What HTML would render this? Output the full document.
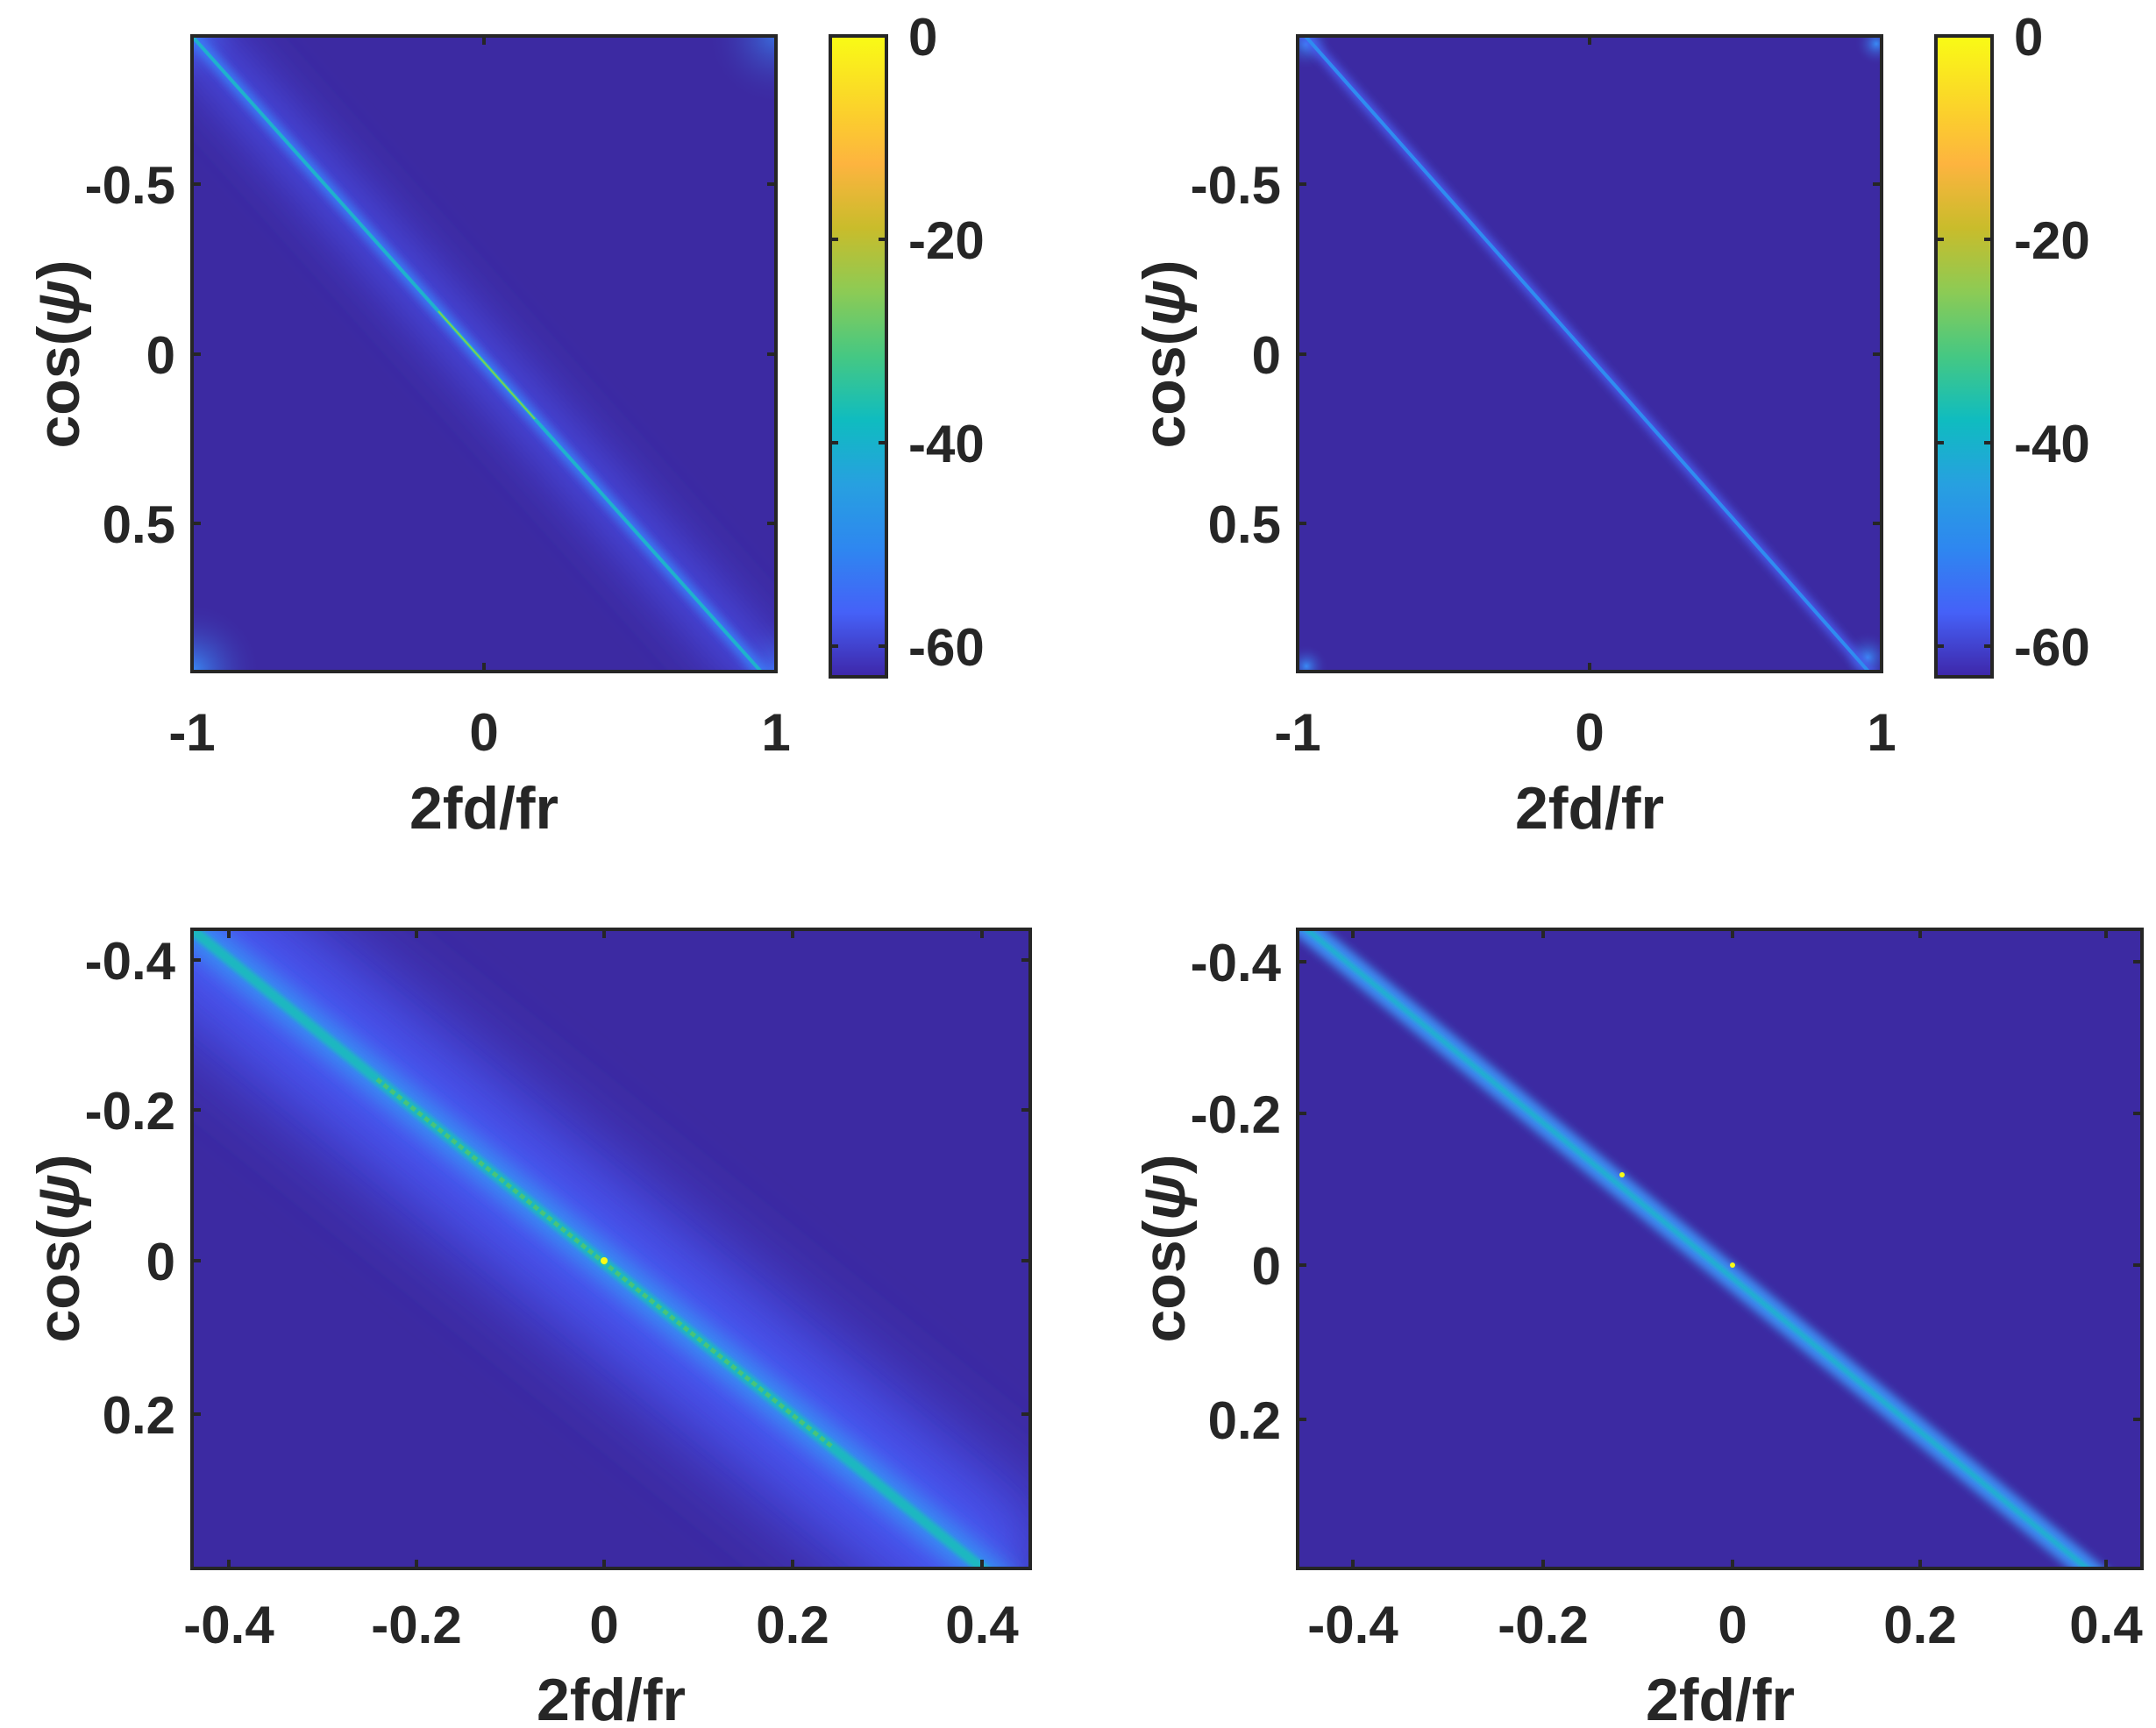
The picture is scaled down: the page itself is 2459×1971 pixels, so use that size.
<!DOCTYPE html>
<html><head><meta charset="utf-8"><style>body{margin:0;background:#fff}svg{display:block}</style></head><body>
<svg width="2459" height="1971" viewBox="0 0 2459 1971" xmlns="http://www.w3.org/2000/svg" font-family="Liberation Sans, sans-serif" font-weight="bold" fill="#262626">
<defs>
<linearGradient id="par" x1="0" y1="0" x2="0" y2="1">
<stop offset="0" stop-color="#f9fb15"/><stop offset="0.12" stop-color="#fbd02c"/><stop offset="0.2" stop-color="#fdb43f"/><stop offset="0.3" stop-color="#c9bc2b"/><stop offset="0.4" stop-color="#8ccb55"/><stop offset="0.5" stop-color="#45c883"/><stop offset="0.6" stop-color="#0fbcc0"/><stop offset="0.7" stop-color="#27a0e0"/><stop offset="0.8" stop-color="#2e87f0"/><stop offset="0.9" stop-color="#4561f8"/><stop offset="1" stop-color="#3e26a8"/>
</linearGradient>
<filter id="b40" x="-50%" y="-50%" width="200%" height="200%"><feGaussianBlur stdDeviation="40"/></filter>
<filter id="b30" x="-50%" y="-50%" width="200%" height="200%"><feGaussianBlur stdDeviation="30"/></filter>
<filter id="b12" x="-50%" y="-50%" width="200%" height="200%"><feGaussianBlur stdDeviation="12"/></filter>
<filter id="b5" x="-50%" y="-50%" width="200%" height="200%"><feGaussianBlur stdDeviation="5"/></filter>
<filter id="b2" x="-50%" y="-50%" width="200%" height="200%"><feGaussianBlur stdDeviation="2"/></filter>
<clipPath id="c1"><rect x="219" y="41" width="666" height="725"/></clipPath>
<clipPath id="c2"><rect x="1480" y="41" width="666" height="725"/></clipPath>
<clipPath id="c3"><rect x="219" y="1060" width="956" height="729"/></clipPath>
<clipPath id="c4"><rect x="1480" y="1060" width="963" height="729"/></clipPath>
<radialGradient id="cg"><stop offset="0" stop-color="#3a8af5"/><stop offset="1" stop-color="#3c2aa2" stop-opacity="0"/></radialGradient>
</defs>

<g clip-path="url(#c1)">
<rect x="219" y="41" width="666" height="725" fill="#3c2aa2"/>
<circle cx="219" cy="766" r="80" fill="url(#cg)"/><circle cx="885" cy="41" r="80" fill="url(#cg)" opacity="0.7"/><circle cx="219" cy="41" r="60" fill="url(#cg)"/><circle cx="885" cy="766" r="60" fill="url(#cg)"/>
<line x1="200" y1="20" x2="885" y2="785" stroke="#4850ec" stroke-width="50" filter="url(#b30)"/>
<line x1="200" y1="20" x2="885" y2="785" stroke="#3b7af5" stroke-width="14" filter="url(#b5)"/>
<line x1="200" y1="20" x2="885" y2="785" stroke="#1fb2cc" stroke-width="4"/>
<line x1="500" y1="355" x2="610" y2="478" stroke="#7fcf50" stroke-width="2"/>
</g>
<g clip-path="url(#c2)">
<rect x="1480" y="41" width="666" height="725" fill="#3c2aa2"/>
<circle cx="1490" cy="50" r="30" fill="url(#cg)"/><circle cx="2140" cy="50" r="25" fill="url(#cg)"/><circle cx="1490" cy="760" r="25" fill="url(#cg)"/><circle cx="2130" cy="750" r="30" fill="url(#cg)"/>
<line x1="1470" y1="20" x2="2148" y2="785" stroke="#4a60f5" stroke-width="10" filter="url(#b5)"/>
<line x1="1470" y1="20" x2="2148" y2="785" stroke="#2f8cf0" stroke-width="4"/>
</g>
<g clip-path="url(#c3)">
<rect x="219" y="1060" width="956" height="729" fill="#3c2aa2"/>
<line x1="190" y1="1037" x2="1150" y2="1813" stroke="#4448e0" stroke-width="200" filter="url(#b40)"/>
<line x1="190" y1="1037" x2="1150" y2="1813" stroke="#4a5cf5" stroke-width="80" filter="url(#b30)"/>
<line x1="190" y1="1037" x2="1150" y2="1813" stroke="#3592f2" stroke-width="34" filter="url(#b12)"/>
<line x1="190" y1="1037" x2="1150" y2="1813" stroke="#1bb8c0" stroke-width="12" filter="url(#b2)"/>
<line x1="430" y1="1231" x2="950" y2="1651" stroke="#48c47a" stroke-width="5" stroke-dasharray="6 4"/>
<circle cx="689" cy="1438" r="4" fill="#f9fb15"/>
</g>
<g clip-path="url(#c4)">
<rect x="1480" y="1060" width="963" height="729" fill="#3c2aa2"/>
<line x1="1466" y1="1040" x2="2400" y2="1805" stroke="#3d8cf2" stroke-width="26" filter="url(#b5)"/>
<line x1="1466" y1="1040" x2="2400" y2="1805" stroke="#1ab4cc" stroke-width="6" filter="url(#b2)"/>
<circle cx="1976" cy="1443" r="3" fill="#f9fb15"/><circle cx="1850" cy="1340" r="3" fill="#f9fb15"/>
</g>

<g fill="none" stroke="#262626" stroke-width="4">
<rect x="219" y="41" width="666" height="725"/>
<rect x="1480" y="41" width="666" height="725"/>
<rect x="219" y="1060" width="956" height="729"/>
<rect x="1480" y="1060" width="963" height="729"/>
<rect x="947" y="41" width="64" height="731" fill="url(#par)"/>
<rect x="2208" y="41" width="64" height="731" fill="url(#par)"/>
<path d="M552 766v-10M552 41v10M219 210h10M885 210h-10M219 404h10M885 404h-10M219 597h10M885 597h-10"/>
<path d="M1813 766v-10M1813 41v10M1480 210h10M2146 210h-10M1480 404h10M2146 404h-10M1480 597h10M2146 597h-10"/>
<path d="M947 273h9M1011 273h-9M947 505h9M1011 505h-9M947 737h9M1011 737h-9"/>
<path d="M2208 273h9M2272 273h-9M2208 505h9M2272 505h-9M2208 737h9M2272 737h-9"/>
<path d="M261 1789v-10M261 1060v10M475 1789v-10M475 1060v10M689 1789v-10M689 1060v10M904 1789v-10M904 1060v10M1120 1789v-10M1120 1060v10M219 1095h10M1175 1095h-10M219 1266h10M1175 1266h-10M219 1438h10M1175 1438h-10M219 1613h10M1175 1613h-10"/>
<path d="M1543 1789v-10M1543 1060v10M1760 1789v-10M1760 1060v10M1976 1789v-10M1976 1060v10M2190 1789v-10M2190 1060v10M2402 1789v-10M2402 1060v10M1480 1097h10M2443 1097h-10M1480 1270h10M2443 1270h-10M1480 1443h10M2443 1443h-10M1480 1619h10M2443 1619h-10"/>
</g>

<g font-size="60">
<g text-anchor="end">
<text x="200" y="232">-0.5</text><text x="200" y="426">0</text><text x="200" y="619">0.5</text>
<text x="1461" y="232">-0.5</text><text x="1461" y="426">0</text><text x="1461" y="619">0.5</text>
<text x="200" y="1117">-0.4</text><text x="200" y="1288">-0.2</text><text x="200" y="1460">0</text><text x="200" y="1635">0.2</text>
<text x="1461" y="1119">-0.4</text><text x="1461" y="1292">-0.2</text><text x="1461" y="1465">0</text><text x="1461" y="1641">0.2</text>
</g>
<g text-anchor="middle">
<text x="219" y="856">-1</text><text x="552" y="856">0</text><text x="885" y="856">1</text>
<text x="1480" y="856">-1</text><text x="1813" y="856">0</text><text x="2146" y="856">1</text>
<text x="261" y="1874">-0.4</text><text x="475" y="1874">-0.2</text><text x="689" y="1874">0</text><text x="904" y="1874">0.2</text><text x="1120" y="1874">0.4</text>
<text x="1543" y="1874">-0.4</text><text x="1760" y="1874">-0.2</text><text x="1976" y="1874">0</text><text x="2190" y="1874">0.2</text><text x="2402" y="1874">0.4</text>
</g>
<text x="1036" y="63">0</text><text x="1036" y="295">-20</text><text x="1036" y="527">-40</text><text x="1036" y="759">-60</text>
<text x="2297" y="63">0</text><text x="2297" y="295">-20</text><text x="2297" y="527">-40</text><text x="2297" y="759">-60</text>
</g>
<g font-size="68" text-anchor="middle">
<text x="552" y="945">2fd/fr</text><text x="1813" y="945">2fd/fr</text>
<text x="697" y="1962">2fd/fr</text><text x="1962" y="1962">2fd/fr</text>
<text transform="translate(90,404) rotate(-90)">cos(<tspan font-style="italic">ψ</tspan>)</text>
<text transform="translate(1351,404) rotate(-90)">cos(<tspan font-style="italic">ψ</tspan>)</text>
<text transform="translate(90,1424) rotate(-90)">cos(<tspan font-style="italic">ψ</tspan>)</text>
<text transform="translate(1351,1424) rotate(-90)">cos(<tspan font-style="italic">ψ</tspan>)</text>
</g>
</svg>
</body></html>
